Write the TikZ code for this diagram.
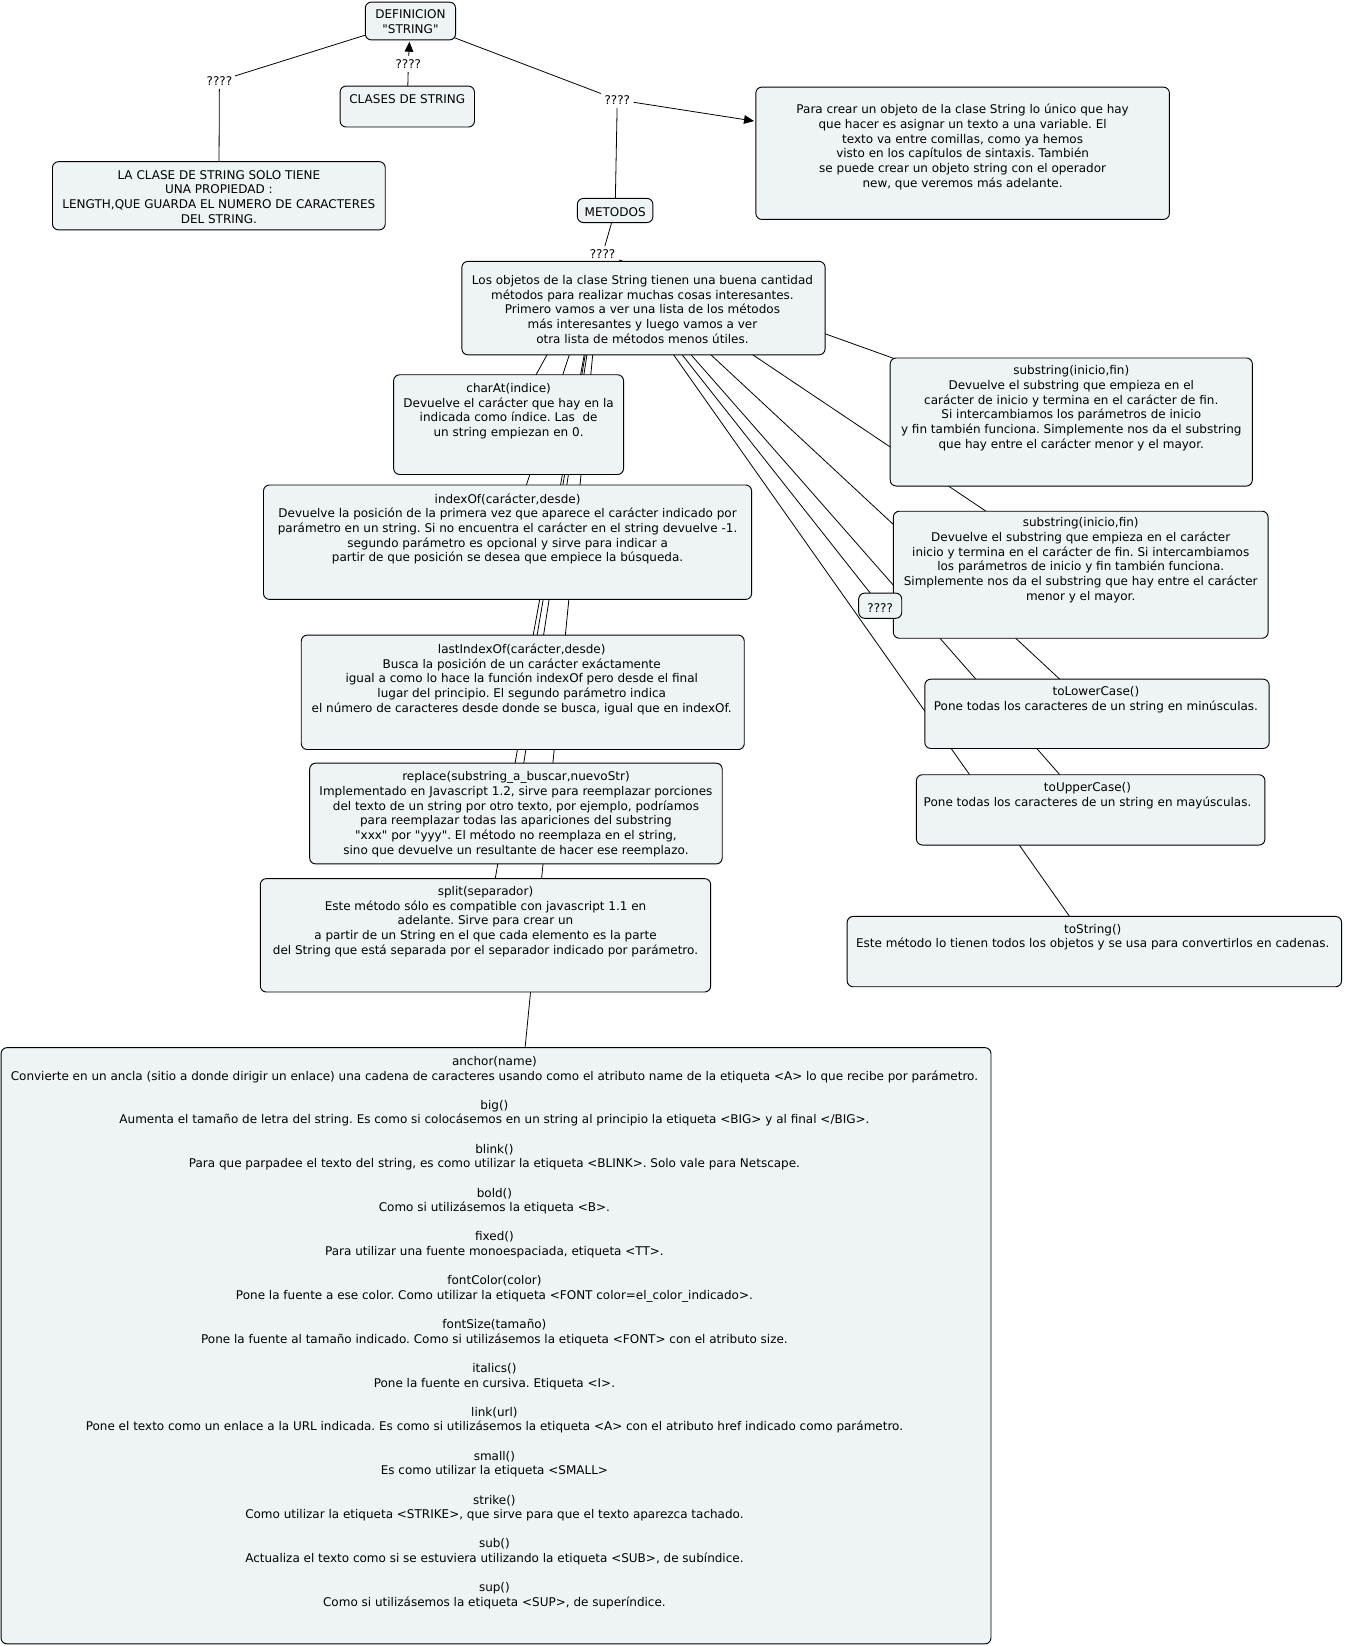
\documentclass[tikz,border=0pt]{standalone}
\usepackage{fontspec}
\setmainfont{DejaVu Sans}[Ligatures=TeXOff]
\usetikzlibrary{fit,arrows.meta,backgrounds}
\definecolor{boxfill}{RGB}{238,243,245}
\frenchspacing
\begin{document}
\begin{tikzpicture}[x=0.7875pt,y=-0.7875pt,
  box/.style={draw=black, line width=0.7pt, fill=boxfill, rounded corners=4.5pt, inner sep=0pt},
  txt/.style={align=center, inner sep=0pt, font=\fontsize{9}{11}\selectfont\frenchspacing, anchor=north, yshift=-1.6pt, execute at begin node=\strut},
  lp/.style={fill=white, inner sep=2.5pt, font=\fontsize{9}{11}\selectfont},
  con/.style={line width=0.6pt},
  arr/.style={line width=0.6pt, -{Triangle[length=7.5pt,width=6.5pt]}, shorten >=1pt}]
\useasboundingbox (0,0) rectangle (1281,1568);

% linking phrases
\node[lp] (lp1) at (209,77) {????};
\node[lp] (lp2) at (389,61) {????};
\node[lp] (lp3) at (588,95) {????};
\node[lp] (lp4) at (574,242) {????};

% concept boxes
\node[box, fit={(348,2) (434,38)}] (defn) {};
\node[box, fit={(324,82) (452,121)}] (clases) {};
\node[box, fit={(50,154) (367,219)}] (clase) {};
\node[box, fit={(720,83) (1114,209)}] (para) {};
\node[box, fit={(550,189) (622,212)}] (metodos) {};
\node[box, fit={(440,249) (786,338)}] (objetos) {};
\node[box, fit={(375,357) (594,452)}] (charat) {};
\node[box, fit={(848,341) (1193,463)}] (sub1) {};
\node[box, fit={(251,462) (716,571)}] (indexof) {};
\node[box, fit={(851,487) (1208,608)}] (sub2) {};
\node[box, fit={(818,565) (859,589)}] (qq) {};
\node[box, fit={(287,605) (709,714)}] (lastidx) {};
\node[box, fit={(881,647) (1209,713)}] (lower) {};
\node[box, fit={(295,727) (688,823)}] (replace) {};
\node[box, fit={(873,738) (1205,805)}] (upper) {};
\node[box, fit={(248,837) (677,945)}] (split) {};
\node[box, fit={(807,873) (1278,940)}] (tostr) {};
\node[box, fit={(1,998) (944,1566)}] (anchor) {};

% texts
\node[txt] (tdefn) at (391,7) {DEFINICION\\"STRING"};
\node[txt] (tclases) at (388,87) {CLASES DE STRING};
\node[txt] (tclase) at (208.5,160) {LA CLASE DE STRING SOLO TIENE\\UNA PROPIEDAD :\\LENGTH,QUE GUARDA EL NUMERO DE CARACTERES\\DEL STRING.};
\node[txt] (tpara) at (917,97) {Para crear un objeto de la clase String lo único que hay\\que hacer es asignar un texto a una variable. El\\texto va entre comillas, como ya hemos\\visto en los capítulos de sintaxis. También\\se puede crear un objeto string con el operador\\new, que veremos más adelante.};
\node[txt] (tmetodos) at (586,194) {METODOS};
\node[txt] (tobjetos) at (612,260) {Los objetos de la clase String tienen una buena cantidad\\métodos para realizar muchas cosas interesantes.\\Primero vamos a ver una lista de los métodos\\más interesantes y luego vamos a ver\\otra lista de métodos menos útiles.};
\node[txt] (tcharat) at (484.5,363) {charAt(indice)\\Devuelve el carácter que hay en la\\indicada como índice. Las~~de\\un string empiezan en 0.};
\node[txt] (tsub1) at (1020.5,346) {substring(inicio,fin)\\Devuelve el substring que empieza en el\\carácter de inicio y termina en el carácter de fin.\\Si intercambiamos los parámetros de inicio\\y fin también funciona. Simplemente nos da el substring\\que hay entre el carácter menor y el mayor.};
\node[txt] (tindexof) at (483.5,468) {indexOf(carácter,desde)\\Devuelve la posición de la primera vez que aparece el carácter indicado por\\parámetro en un string. Si no encuentra el carácter en el string devuelve -1.\\segundo parámetro es opcional y sirve para indicar a\\partir de que posición se desea que empiece la búsqueda.};
\node[txt] (tsub2) at (1029.5,491) {substring(inicio,fin)\\Devuelve el substring que empieza en el carácter\\inicio y termina en el carácter de fin. Si intercambiamos\\los parámetros de inicio y fin también funciona.\\Simplemente nos da el substring que hay entre el carácter\\menor y el mayor.};
\node[txt] (tqq) at (838.5,571) {????};
\node[txt] (tlastidx) at (497,611) {lastIndexOf(carácter,desde)\\Busca la posición de un carácter exáctamente\\igual a como lo hace la función indexOf pero desde el final\\lugar del principio. El segundo parámetro indica\\el número de caracteres desde donde se busca, igual que en indexOf.};
\node[txt] (tlower) at (1044,652) {toLowerCase()\\Pone todas los caracteres de un string en minúsculas.};
\node[txt] (treplace) at (491.5,733) {replace(substring\_a\_buscar,nuevoStr)\\Implementado en Javascript 1.2, sirve para reemplazar porciones\\del texto de un string por otro texto, por ejemplo, podríamos\\para reemplazar todas las apariciones del substring\\"xxx" por "yyy". El método no reemplaza en el string,\\sino que devuelve un resultante de hacer ese reemplazo.};
\node[txt] (tupper) at (1036,743) {toUpperCase()\\Pone todas los caracteres de un string en mayúsculas.};
\node[txt] (tsplit) at (462.5,842) {split(separador)\\Este método sólo es compatible con javascript 1.1 en\\adelante. Sirve para crear un\\a partir de un String en el que cada elemento es la parte\\del String que está separada por el separador indicado por parámetro.};
\node[txt] (ttostr) at (1041,878) {toString()\\Este método lo tienen todos los objetos y se usa para convertirlos en cadenas.};
\node[txt] (tanchor) at (471,1004) {anchor(name)\\Convierte en un ancla (sitio a donde dirigir un enlace) una cadena de caracteres usando como el atributo name de la etiqueta <A> lo que recibe por parámetro.\\[10.9pt]
big()\\Aumenta el tamaño de letra del string. Es como si colocásemos en un string al principio la etiqueta <BIG> y al final </BIG>.\\[10.9pt]
blink()\\Para que parpadee el texto del string, es como utilizar la etiqueta <BLINK>. Solo vale para Netscape.\\[10.9pt]
bold()\\Como si utilizásemos la etiqueta <B>.\\[10.9pt]
fixed()\\Para utilizar una fuente monoespaciada, etiqueta <TT>.\\[10.9pt]
fontColor(color)\\Pone la fuente a ese color. Como utilizar la etiqueta <FONT color=el\_color\_indicado>.\\[10.9pt]
fontSize(tamaño)\\Pone la fuente al tamaño indicado. Como si utilizásemos la etiqueta <FONT> con el atributo size.\\[10.9pt]
italics()\\Pone la fuente en cursiva. Etiqueta <I>.\\[10.9pt]
link(url)\\Pone el texto como un enlace a la URL indicada. Es como si utilizásemos la etiqueta <A> con el atributo href indicado como parámetro.\\[10.9pt]
small()\\Es como utilizar la etiqueta <SMALL>\\[10.9pt]
strike()\\Como utilizar la etiqueta <STRIKE>, que sirve para que el texto aparezca tachado.\\[10.9pt]
sub()\\Actualiza el texto como si se estuviera utilizando la etiqueta <SUB>, de subíndice.\\[10.9pt]
sup()\\Como si utilizásemos la etiqueta <SUP>, de superíndice.};

% connectors (behind everything)
\begin{scope}[on background layer]
\draw[con] (defn.center) -- (lp1.center) -- (clase.center);
\draw[con] (clases.center) -- (lp2.center);
\draw[con] (defn.center) -- (lp3.center) -- (metodos.center);
\draw[con] (metodos.center) -- (lp4.center) -- (objetos.center);
\foreach \t in {charat,indexof,lastidx,replace,split,anchor,sub1,sub2,qq,lower,upper,tostr}
  \draw[con] (lp4.center) -- (\t.center);
\end{scope}
\draw[arr] (lp2) -- (defn);
\draw[arr] (lp3) -- (para);
\end{tikzpicture}
\end{document}
